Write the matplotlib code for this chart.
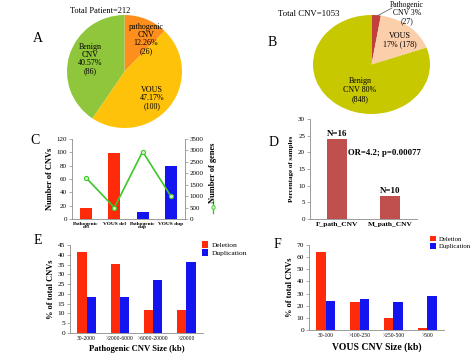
import matplotlib
matplotlib.use("Agg")
import matplotlib.pyplot as plt
from matplotlib.lines import Line2D
import numpy as np

plt.rcParams['font.family'] = ['Liberation Serif', 'DejaVu Serif']

W, H = 474, 357

# ---------------- data ----------------
pieA_labels = ["pathogenic\nCNV\n12.26%\n(26)", "VOUS\n47.17%\n(100)", "Benign\nCNV\n40.57%\n(86)"]
pieA_values = [26, 100, 86]
pieA_colors = ["#FF8F1C", "#FFC20A", "#8FC63C"]

pieB_labels = ["Pathogenic\nCNV 3%\n(27)", "VOUS\n17% (178)", "Benign\nCNV 80%\n(848)"]
pieB_values = [27, 178, 848]
pieB_colors = ["#C2403B", "#FBCFAA", "#C8C800"]

C_categories = ["Pathogenic\ndel", "VOUS del", "Pathogenic\ndup", "VOUS dup"]
C_cnvs = [17, 99, 11, 79]
C_genes = [1800, 500, 2950, 1000]
C_colors = ["#FF2A0A", "#FF2A0A", "#1414F0", "#1414F0"]

D_categories = ["F_path_CNV", "M_path_CNV"]
D_percent = [24, 7]
D_n = ["N=16", "N=10"]

E_categories = ["30-2000", ">2000-6000", ">6000-20000", ">20000"]
E_deletion = [41.2, 35.3, 11.8, 11.8]
E_duplication = [18.2, 18.2, 27.3, 36.4]

F_categories = ["30-100", ">100-250", ">250-500", ">500"]
F_deletion = [64.6, 23.2, 10.1, 2.0]
F_duplication = [24.1, 25.3, 22.8, 27.8]

RED = "#FF2A0A"
BLUE = "#1414F0"
GREEN = "#3CC82A"
GRAY = "#8C8C8C"

fig = plt.figure(figsize=(W / 100, H / 100), dpi=100)


def axpx(x0, y0, x1, y1):
    return fig.add_axes([x0 / W, 1 - y1 / H, (x1 - x0) / W, (y1 - y0) / H])


def ftext(x, y, s, **kw):
    kw.setdefault('ha', 'center')
    kw.setdefault('va', 'center')
    fig.text(x / W, 1 - y / H, s, **kw)


def style_axes(ax, fs=5):
    for s in ['top', 'right']:
        ax.spines[s].set_visible(False)
    for s in ['left', 'bottom']:
        ax.spines[s].set_color(GRAY)
        ax.spines[s].set_linewidth(0.6)
    ax.tick_params(axis='y', direction='out', length=2, width=0.5, color=GRAY,
                   labelsize=fs, pad=1.5)
    ax.tick_params(axis='x', length=0, labelsize=fs, pad=2)


# ---------------- Pie A ----------------
axA = axpx(67, 15, 182, 128)
axA.pie(pieA_values, colors=pieA_colors, startangle=90, counterclock=False,
        radius=1, wedgeprops=dict(linewidth=0))
axA.set_xlim(-1, 1)
axA.set_ylim(-1, 1)
axA.set_aspect('auto')
ftext(100, 11, "Total Patient=212", fontsize=6)
ftext(38, 38, "A", fontsize=10)
ftext(146, 39, pieA_labels[0], fontsize=5.8, linespacing=1.0)
ftext(152, 98, pieA_labels[1], fontsize=5.8, linespacing=1.0)
ftext(90, 59, pieA_labels[2], fontsize=5.8, linespacing=1.0)

# ---------------- Pie B ----------------
axB = axpx(313, 15, 430, 114)
axB.pie(pieB_values, colors=pieB_colors, startangle=90, counterclock=False,
        radius=1, wedgeprops=dict(linewidth=0))
axB.set_xlim(-1, 1)
axB.set_ylim(-1, 1)
axB.set_aspect('auto')
ftext(309, 14, "Total CNV=1053", fontsize=6.3)
ftext(272, 42, "B", fontsize=10)
ftext(407, 13, pieB_labels[0], fontsize=5.5, linespacing=1.0)
fig.add_artist(Line2D([377 / W, 392 / W], [1 - 16 / H, 1 - 8 / H],
                      color="#555555", lw=0.5))
ftext(400, 40, pieB_labels[1], fontsize=5.8, linespacing=1.15)
ftext(360, 90, pieB_labels[2], fontsize=5.8, linespacing=1.15)

# ---------------- Panel C ----------------
axC = axpx(72, 139, 185, 219)
x = np.arange(len(C_categories))
axC.bar(x, C_cnvs, width=0.42, color=C_colors)
axC.set_xlim(-0.5, len(C_categories) - 0.5)
axC.set_ylim(0, 120)
axC.set_yticks(np.arange(0, 121, 20))
axC.set_xticks(x)
axC.set_xticklabels(C_categories, fontweight='bold', linespacing=0.9)
style_axes(axC, fs=5)
axC.tick_params(axis='x', labelsize=3.9)
axC.set_ylabel("Number of CNVs", fontsize=6, fontweight='bold', labelpad=2)
axC2 = axC.twinx()
axC2.plot(x, C_genes, color=GREEN, lw=1.2, marker='o', ms=3,
          mfc="#D8F5C8", mec=GREEN, mew=0.8)
axC2.set_ylim(0, 3500)
axC2.set_yticks(np.arange(0, 3501, 500))
for s in ['top', 'left', 'bottom']:
    axC2.spines[s].set_visible(False)
axC2.spines['right'].set_color(GRAY)
axC2.spines['right'].set_linewidth(0.6)
axC2.tick_params(axis='y', direction='out', length=2, width=0.5, color=GRAY,
                 labelsize=5, pad=1.5)
ftext(35, 141, "C", fontsize=10)
ftext(213, 173, "Number of genes", fontsize=6, fontweight='bold', rotation=90)
fig.add_artist(Line2D([213 / W, 213 / W], [1 - 200 / H, 1 - 213 / H],
                      color=GREEN, lw=1.0))
fig.add_artist(Line2D([213 / W], [1 - 206.5 / H], color=GREEN, marker='o',
                      ms=2.5, mfc="#D8F5C8", mec=GREEN, mew=0.6))

# ---------------- Panel D ----------------
axD = axpx(310, 119, 417, 219)
xd = np.arange(len(D_categories))
axD.bar(xd, D_percent, width=0.38, color="#C0504D")
axD.set_xlim(-0.5, len(D_categories) - 0.5)
axD.set_ylim(0, 30)
axD.set_yticks(np.arange(0, 31, 5))
axD.set_xticks(xd)
axD.set_xticklabels(D_categories, fontweight='bold')
style_axes(axD, fs=5)
axD.tick_params(axis='x', labelsize=5.3)
axD.set_ylabel("Percentage of samples", fontsize=5, fontweight='bold', labelpad=3)
for xi, v, n in zip(xd, D_percent, D_n):
    axD.text(xi, v + 0.3, n, ha='center', va='bottom', fontsize=6.5,
             fontweight='bold')
ftext(384, 153, "OR=4.2; p=0.00077", fontsize=6.3, fontweight='bold')
ftext(274, 143, "D", fontsize=10)


# ---------------- Panels E, F ----------------
def grouped(ax, cats, dele, dup, ymax, step, xlabel, xfs):
    xg = np.arange(len(cats))
    bw = 0.28
    ax.bar(xg - bw / 2, dele, width=bw, color=RED, label="Deletion")
    ax.bar(xg + bw / 2, dup, width=bw, color=BLUE, label="Duplication")
    ax.set_xlim(-0.5, len(cats) - 0.5)
    ax.set_ylim(0, ymax)
    ax.set_yticks(np.arange(0, ymax + 1, step))
    ax.set_xticks(xg)
    ax.set_xticklabels(cats)
    style_axes(ax, fs=5.3)
    ax.tick_params(axis='x', labelsize=4)
    ax.set_xlabel(xlabel, fontsize=xfs, fontweight='bold', labelpad=3)
    ax.set_ylabel("% of total CNVs", fontsize=6, fontweight='bold', labelpad=2)


axE = axpx(70, 245, 203, 333)
grouped(axE, E_categories, E_deletion, E_duplication, 45, 5,
        "Pathogenic CNV Size (kb)", 6.2)
axE.legend(loc='upper left', bbox_to_anchor=(0.99, 1.04), frameon=False,
           fontsize=5.4, handlelength=0.9, handleheight=0.9, handletextpad=0.4,
           labelspacing=0.15, borderaxespad=0, borderpad=0)
ftext(38, 241, "E", fontsize=10)

axF = axpx(309, 245, 444, 330)
grouped(axF, F_categories, F_deletion, F_duplication, 70, 10,
        "VOUS CNV Size (kb)", 7)
axF.legend(loc='upper left', bbox_to_anchor=(0.895, 1.11), frameon=False,
           fontsize=4.9, handlelength=0.9, handleheight=0.9, handletextpad=0.4,
           labelspacing=0.2, borderaxespad=0, borderpad=0)
ftext(277, 245, "F", fontsize=10)

fig.savefig("out.png", dpi=100)
